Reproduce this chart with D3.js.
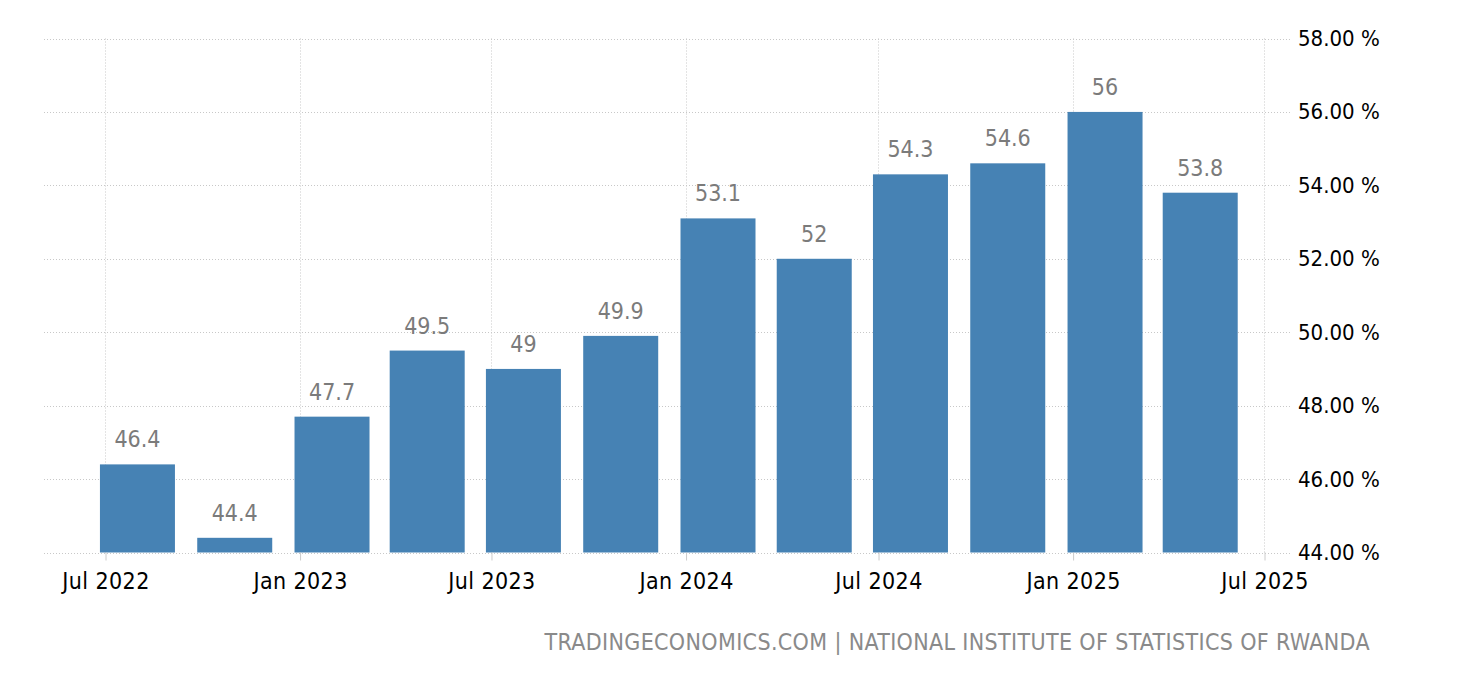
<!DOCTYPE html>
<html>
<head>
<meta charset="utf-8">
<script src="https://cdn.jsdelivr.net/npm/d3@7"></script>
<style>
  html, body { margin: 0; padding: 0; background: #fff; }
  svg { display: block; }
</style>
</head>
<body>
<svg id="chart" width="1460" height="680"></svg>
<script>
const dates = ["2022-06-30","2022-09-30","2022-12-31","2023-03-31","2023-06-30","2023-09-30",
               "2023-12-31","2024-03-31","2024-06-30","2024-09-30","2024-12-31","2025-03-31"];
const values = [46.4, 44.4, 47.7, 49.5, 49, 49.9, 53.1, 52, 54.3, 54.6, 56, 53.8];
const xTickDates = ["2022-07-01","2023-01-01","2023-07-01","2024-01-01","2024-07-01","2025-01-01","2025-07-01"];
const yTicks = [44, 46, 48, 50, 52, 54, 56, 58];
const sourceText = "TRADINGECONOMICS.COM | NATIONAL INSTITUTE OF STATISTICS OF RWANDA";

const FONT = '"DejaVu Sans Condensed", "DejaVu Sans"';
const parse = d3.utcParse("%Y-%m-%d");
const fmtX = d3.utcFormat("%b %Y");
const data = dates.map((d, i) => ({ date: parse(d), value: values[i] }));

const svg = d3.select("#chart");
const gridLeft = 44, gridRight = 1292, plotTop = 38.5, plotBottom = 552.5;

const x = d3.scaleUtc()
  .domain([parse("2022-07-01"), parse("2025-07-01")])
  .range([105, 1264]);
const y = d3.scaleLinear().domain([44, 58]).range([plotBottom, plotTop]);

const barW = 75, barShift = -4;

svg.append("g").selectAll("line").data(yTicks).join("line")
  .attr("x1", gridLeft).attr("x2", gridRight)
  .attr("y1", d => Math.round(y(d)) + 0.5).attr("y2", d => Math.round(y(d)) + 0.5)
  .attr("stroke", "#c8c8c8").attr("stroke-width", 1).attr("stroke-dasharray", "1,2");

const xt = xTickDates.map(parse);
svg.append("g").selectAll("line").data(xt).join("line")
  .attr("x1", d => Math.round(x(d)) + 0.5).attr("x2", d => Math.round(x(d)) + 0.5)
  .attr("y1", plotTop).attr("y2", plotBottom)
  .attr("stroke", "#c8c8c8").attr("stroke-width", 1).attr("stroke-dasharray", "1,2");

svg.append("g").selectAll("rect").data(data).join("rect")
  .attr("x", d => x(d.date) + barShift)
  .attr("width", barW)
  .attr("y", d => y(d.value))
  .attr("height", d => y(44) - y(d.value))
  .attr("fill", "#4682b4");

svg.append("g").selectAll("text").data(data).join("text")
  .attr("x", d => x(d.date) + barShift + barW / 2)
  .attr("y", d => y(d.value) - 17)
  .attr("text-anchor", "middle")
  .attr("fill", "#7b7b7b")
  .style("font-family", FONT)
  .style("font-size", "23px")
  .text(d => d3.format("")(d.value));

const xAxis = d3.axisBottom(x).tickValues(xt).tickFormat(fmtX).tickSize(8).tickPadding(12);
const gx = svg.append("g").attr("transform", `translate(0.5,${plotBottom})`).call(xAxis);
gx.select(".domain").remove();
gx.selectAll(".tick line").attr("stroke", "#cccccc");
gx.selectAll(".tick text").attr("fill", "#000").style("font-family", FONT).style("font-size", "23px")
  .style("letter-spacing", "0.4px");

const yAxis = d3.axisRight(y).tickValues(yTicks).tickFormat(d => d3.format(".2f")(d) + " %").tickSize(0).tickPadding(0);
const gy = svg.append("g").attr("transform", `translate(1298,0)`).call(yAxis);
gy.select(".domain").remove();
gy.selectAll(".tick text").attr("fill", "#000").style("font-family", FONT).style("font-size", "22px");

svg.append("text")
  .attr("x", 1370).attr("y", 650)
  .attr("text-anchor", "end")
  .attr("fill", "#8a8a8a")
  .style("font-family", FONT)
  .style("font-size", "23px")
  .style("letter-spacing", "0.35px")
  .text(sourceText);
</script>
</body>
</html>
